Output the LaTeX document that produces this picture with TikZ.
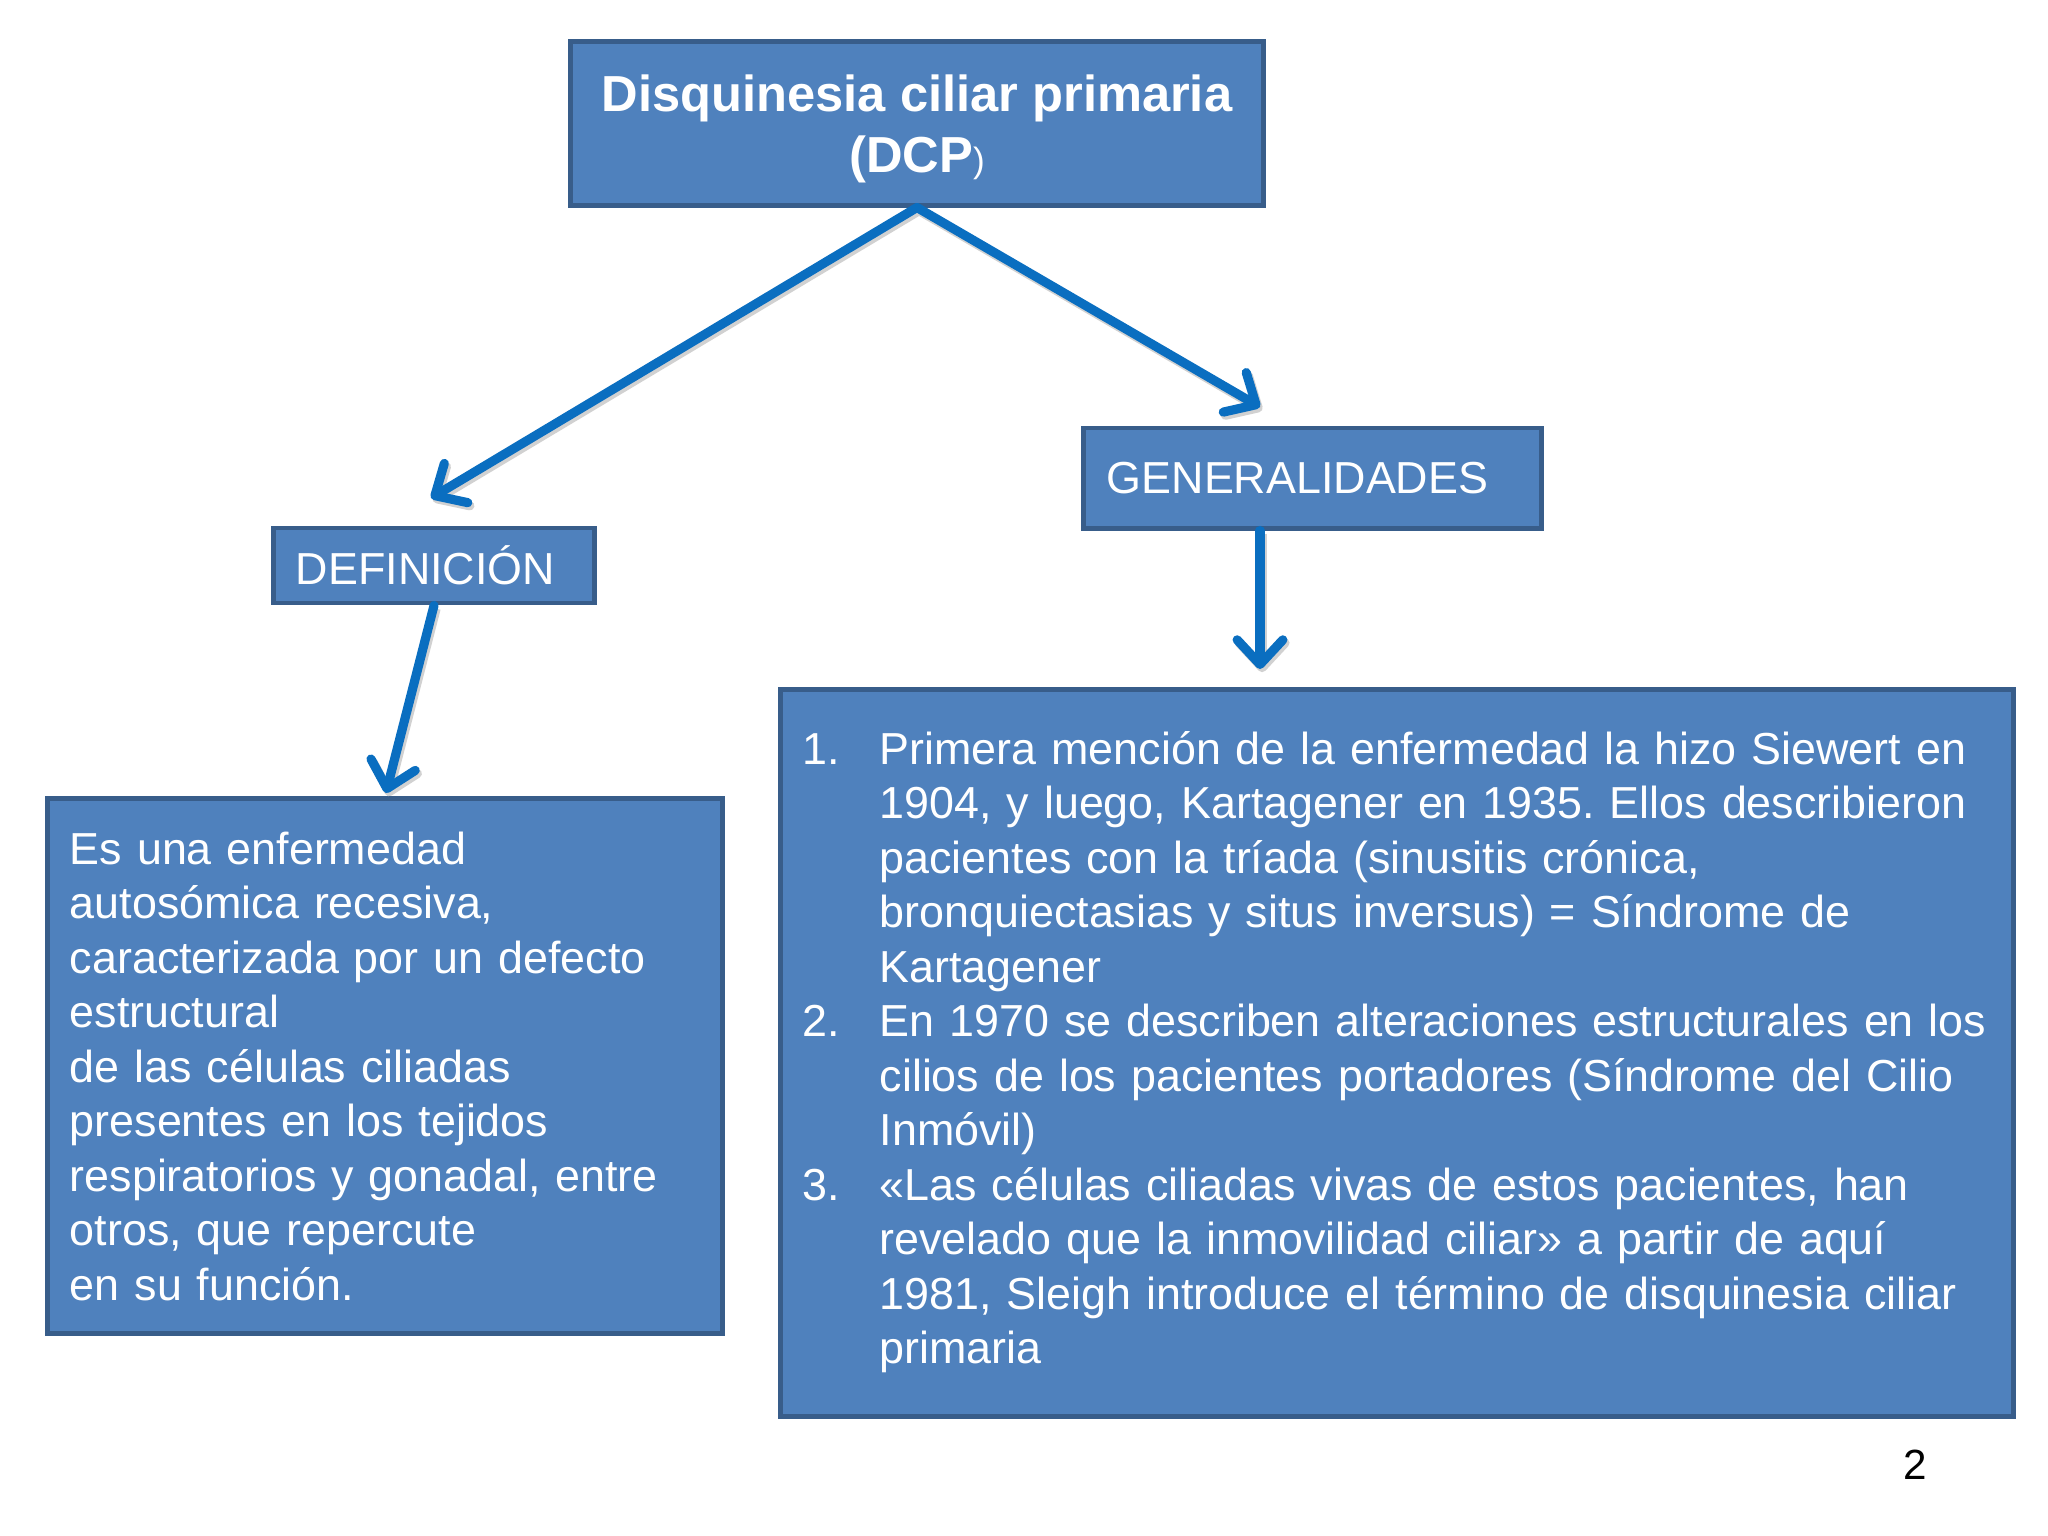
\documentclass[tikz,border=0pt]{standalone}
\usepackage{fontspec}
\setmainfont{Liberation Sans}
\usetikzlibrary{arrows.meta}
\definecolor{boxfill}{HTML}{4F81BD}
\definecolor{boxedge}{HTML}{385D8A}
\definecolor{linkblue}{HTML}{0A6EC0}
\newcommand{\txtbody}{\fontsize{12.75pt}{15.5pt}\selectfont}
\newcommand{\txttitle}{\fontsize{14.4pt}{17.4pt}\selectfont\bfseries}
\frenchspacing
\tikzset{
  box/.style={draw=boxedge, fill=boxfill, line width=1.4pt, text=white,
    inner xsep=0.22cm, inner ysep=0pt},
  link/.style={draw=linkblue, line width=2.6pt, line cap=round,
    -{Straight Barb[length=7pt, width=13pt, line width=2.6pt, round]},
    preaction={draw=black!18, line width=2.6pt, transform canvas={shift={(0.6pt,-0.9pt)}}}}
}

\begin{document}
\begin{tikzpicture}[x=0.01cm, y=-0.01cm]
    \useasboundingbox (0,0) rectangle (2048,1536);
    % Boxes
    \node[box, minimum width=6.92cm, minimum height=1.63cm, align=center, font=\txttitle] (dcp) at (917,123.5)
      {\rule{0pt}{13.3pt}Disquinesia ciliar primaria\\(DCP{\mdseries\fontsize{10pt}{12pt}\selectfont)}};
    \node[box, minimum width=3.2cm, minimum height=0.75cm, text width=2.76cm, align=left, font=\txtbody] (def) at (434,565.5) {DEFINICIÓN};
    \node[box, minimum width=4.57cm, minimum height=1cm, text width=4.11cm, align=left, font=\txtbody] (gen) at (1312.5,478) {GENERALIDADES};
    \node[box, minimum width=6.74cm, minimum height=5.34cm, text width=6.3cm, align=left, font=\txtbody] (defbox) at (385,1066)
      {Es una enfermedad\\
       autosómica recesiva,\\
       caracterizada por un defecto\\
       estructural\\
       de las células ciliadas\\
       presentes en los tejidos\\
       respiratorios y gonadal, entre\\
       otros, que repercute\\
       en su función.};
    \node[box, minimum width=12.32cm, minimum height=7.26cm, text width=11.88cm, align=left, font=\txtbody] (genbox) at (1397,1053)
      {\begin{tabular}{@{}p{0.77cm}@{}l@{}}
       1. & Primera mención de la enfermedad la hizo Siewert en\\
          & 1904, y luego, Kartagener en 1935. Ellos describieron\\
          & pacientes con la tríada (sinusitis crónica,\\
          & bronquiectasias y situs inversus) = Síndrome de\\
          & Kartagener\\
       2. & En 1970 se describen alteraciones estructurales en los\\
          & cilios de los pacientes portadores (Síndrome del Cilio\\
          & Inmóvil)\\
       3. & «Las células ciliadas vivas de estos pacientes, han\\
          & revelado que la inmovilidad ciliar» a partir de aquí\\
          & 1981, Sleigh introduce el término de disquinesia ciliar\\
          & primaria
       \end{tabular}};
    \node[font=\fontsize{12pt}{14pt}\selectfont] (page) at (1915,1465) {2};

    % Arrow ends
    \coordinate (tipdef) at (431,498);
    \coordinate (tipgen) at (1260,407);
    \coordinate (gendown) at (1260,669);

    % Arrows
    \draw[link] (dcp.south) -- (tipdef);
    \draw[link] (dcp.south) -- (tipgen);
    \draw[link] (gen.south -| gendown) -- (gendown);
    \draw[link, shorten >=1pt] (def.south) -- (defbox.north);
\end{tikzpicture}
\end{document}
